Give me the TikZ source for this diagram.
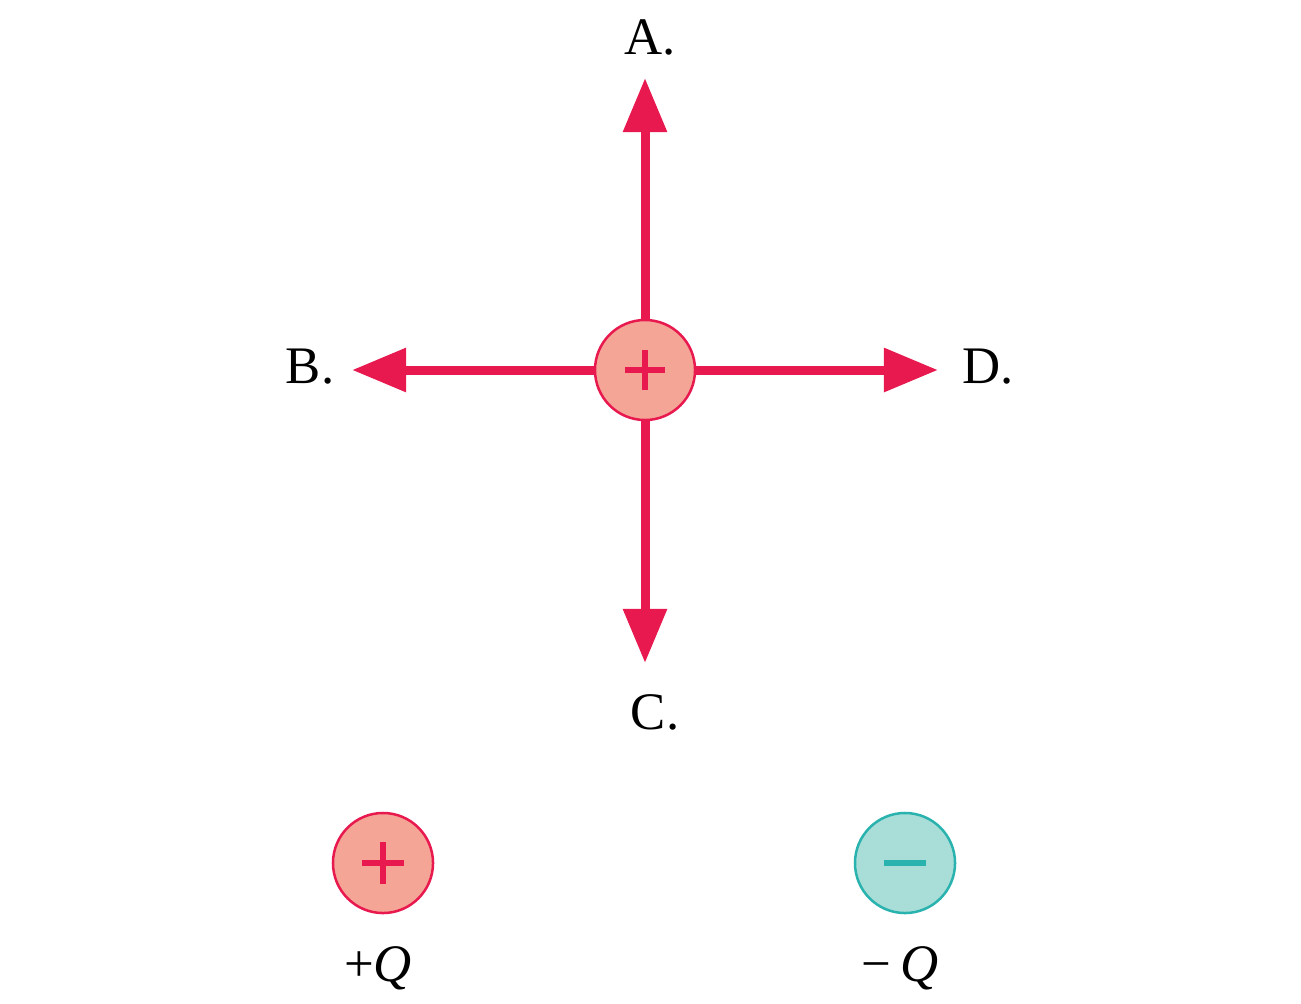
\documentclass[tikz,border=0pt]{standalone}
\usepackage{fontspec}
\setmainfont{Liberation Serif}
\usetikzlibrary{arrows.meta,calc}
\definecolor{rd}{HTML}{E8194F}
\definecolor{salm}{HTML}{F4A595}
\definecolor{tealf}{HTML}{A9DDD7}
\definecolor{teals}{HTML}{2AB3AE}
\tikzset{
 vec/.style={draw=rd,line width=0.09cm,-{Triangle[length=0.54cm,width=0.42cm]}},
 poscharge/.style={circle,draw=rd,fill=salm,line width=0.025cm,minimum size=1.0cm,inner sep=0pt},
 negcharge/.style={circle,draw=teals,fill=tealf,line width=0.025cm,minimum size=1.0cm,inner sep=0pt},
 lab/.style={font=\fontsize{15}{18}\selectfont,inner sep=0pt},
}
\begin{document}
\begin{tikzpicture}[x=0.01cm,y=-0.01cm]
\useasboundingbox (0,0) rectangle (1301,1003);
\coordinate (tA) at (645,78);
\coordinate (tB) at (352,370);
\coordinate (tD) at (938,370);
\coordinate (tC) at (645,663);
\node[poscharge] (q) at (645,370) {};
\draw[vec] (q) -- (tA);
\draw[vec] (q) -- (tB);
\draw[vec] (q) -- (tD);
\draw[vec] (q) -- (tC);
\draw[rd,line width=0.065cm] ($(q)+(-20,0)$) -- ($(q)+(20,0)$) ($(q)+(0,-20)$) -- ($(q)+(0,20)$);
\node[lab] (A) at (650,37) {A.};
\node[lab] (B) at (310,367) {B.};
\node[lab] (D) at (988,367) {D.};
\node[lab] (C) at (655,712) {C.};
\node[poscharge] (p) at (383,863) {};
\draw[rd,line width=0.065cm] ($(p)+(-21,0)$) -- ($(p)+(21,0)$) ($(p)+(0,-21)$) -- ($(p)+(0,21)$);
\node[negcharge] (n) at (905,863) {};
\draw[teals,line width=0.065cm] ($(n)+(-21,0)$) -- ($(n)+(21,0)$);
\node[lab] (pl) at (378,968) {+\textit{Q}};
\node[lab] (nl) at (900,968) {\textminus\,\textit{Q}};
\end{tikzpicture}
\end{document}
